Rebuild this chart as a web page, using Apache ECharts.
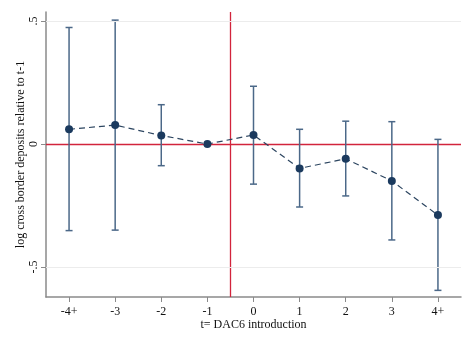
<!DOCTYPE html>
<html><head><meta charset="utf-8">
<script src="https://cdn.jsdelivr.net/npm/echarts@6/dist/echarts.min.js"></script>
<style>html,body{margin:0;padding:0;background:#fff}#c{width:474px;height:345px}</style>
</head><body><div id="c"></div>
<script>
var categories = ['-4+', '-3', '-2', '-1', '0', '1', '2', '3', '4+'];
var positions = [-4, -3, -2, -1, 0, 1, 2, 3, 4];
var estimates = [0.060, 0.077, 0.035, 0.000, 0.037, -0.099, -0.060, -0.150, -0.289];
var ciLow = [-0.352, -0.350, -0.088, null, -0.163, -0.256, -0.211, -0.390, -0.595];
var ciHigh = [0.474, 0.504, 0.160, null, 0.235, 0.060, 0.093, 0.091, 0.019];
var yTicks = [-0.5, 0, 0.5];
var yTickLabels = ['-.5', '0', '.5'];
var treatmentLine = -0.5;

var font = 'Liberation Serif';
var chart = echarts.init(document.getElementById('c'));

var pointData = positions.map(function (p, i) { return [p, estimates[i]]; });
var ciData = [];
positions.forEach(function (p, i) {
  if (ciLow[i] !== null) ciData.push([p, ciLow[i], ciHigh[i]]);
});

chart.setOption({
  animation: false,
  backgroundColor: '#ffffff',
  grid: { left: 46, right: 13, top: 12, bottom: 48 },
  xAxis: {
    type: 'value', min: -4.5, max: 4.5,
    name: 't= DAC6 introduction', nameLocation: 'middle', nameGap: 22, nameMoveOverlap: false,
    nameTextStyle: { fontFamily: font, fontSize: 12, color: '#111' },
    axisLine: { show: true, onZero: false, lineStyle: { color: '#8a8a8a', width: 1.5 } },
    axisTick: { show: true, length: 5, customValues: positions, lineStyle: { color: '#8a8a8a' } },
    axisLabel: { customValues: positions, fontFamily: font, fontSize: 12, color: '#111', margin: 9,
      formatter: function (v) { var i = positions.indexOf(v); return i >= 0 ? categories[i] : ''; } },
    splitLine: { show: false }
  },
  yAxis: {
    type: 'value', min: -0.622, max: 0.537,
    name: 'log cross border deposits relative to t-1', nameLocation: 'middle', nameGap: 19,
    nameRotate: 90, nameMoveOverlap: false,
    nameTextStyle: { fontFamily: font, fontSize: 12, color: '#111' },
    axisLine: { show: true, onZero: false, lineStyle: { color: '#8a8a8a', width: 1.5 } },
    axisTick: { show: true, length: 5, customValues: yTicks, lineStyle: { color: '#8a8a8a' } },
    axisLabel: { customValues: yTicks, rotate: 90, fontFamily: font, fontSize: 12, color: '#111', margin: 6,
      formatter: function (v) { var i = yTicks.indexOf(v); return i >= 0 ? yTickLabels[i] : ''; } },
    splitLine: { show: false }
  },
  series: [
    {
      type: 'line', data: [], silent: true,
      markLine: {
        symbol: 'none', silent: true, label: { show: false },
        data: [
          { yAxis: yTicks[0], lineStyle: { color: '#ececec', width: 1, type: 'solid' } },
          { yAxis: yTicks[2], lineStyle: { color: '#ececec', width: 1, type: 'solid' } }
        ]
      }
    },
    {
      type: 'custom', z: 3,
      data: ciData,
      renderItem: function (params, api) {
        var x = api.value(0);
        var lo = api.coord([x, api.value(1)]);
        var hi = api.coord([x, api.value(2)]);
        var cap = 3.5;
        var st = { stroke: '#4b6888', lineWidth: 1.5 };
        return {
          type: 'group',
          children: [
            { type: 'line', shape: { x1: lo[0], y1: lo[1], x2: hi[0], y2: hi[1] }, style: st },
            { type: 'line', shape: { x1: lo[0] - cap, y1: lo[1], x2: lo[0] + cap, y2: lo[1] }, style: st },
            { type: 'line', shape: { x1: hi[0] - cap, y1: hi[1], x2: hi[0] + cap, y2: hi[1] }, style: st }
          ]
        };
      }
    },
    {
      type: 'line', z: 4, data: pointData,
      symbol: 'circle', symbolSize: 8,
      itemStyle: { color: '#1b3a5e' },
      lineStyle: { color: '#2c4560', width: 1.2, type: [6, 4] },
      markLine: {
        symbol: 'none', silent: true, label: { show: false }, z: 2,
        data: [
          { yAxis: 0, lineStyle: { color: '#d2243c', width: 1.3, type: 'solid' } },
          { xAxis: treatmentLine, lineStyle: { color: '#d2243c', width: 1.3, type: 'solid' } }
        ]
      }
    }
  ]
});
</script></body></html>
